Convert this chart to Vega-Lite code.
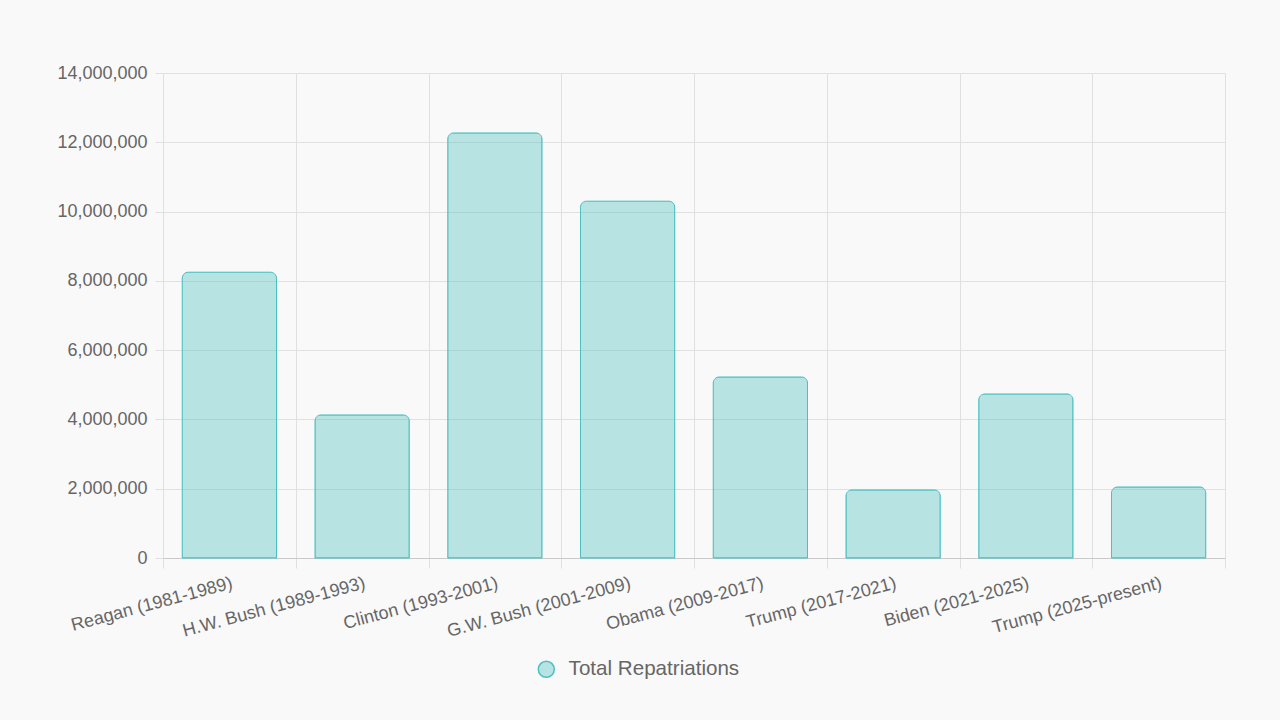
{
  "$schema": "https://vega.github.io/schema/vega-lite/v6.json",
  "width": 1062,
  "height": 485,
  "autosize": {"type": "none"},
  "padding": {"left": 163, "top": 73, "right": 55, "bottom": 162},
  "background": "#f9f9f9",
  "config": {"view": {"stroke": null}, "font": "Liberation Sans"},
  "data": {
    "values": [
      {"president": "Reagan (1981-1989)", "repatriations": 8250000},
      {"president": "H.W. Bush (1989-1993)", "repatriations": 4130000},
      {"president": "Clinton (1993-2001)", "repatriations": 12270000},
      {"president": "G.W. Bush (2001-2009)", "repatriations": 10300000},
      {"president": "Obama (2009-2017)", "repatriations": 5225000},
      {"president": "Trump (2017-2021)", "repatriations": 1965000},
      {"president": "Biden (2021-2025)", "repatriations": 4735000},
      {"president": "Trump (2025-present)", "repatriations": 2050000}
    ]
  },
  "mark": {
    "type": "bar",
    "width": {"band": 0.71},
    "stroke": "rgb(75,192,192)",
    "strokeWidth": 1,
    "cornerRadiusTopLeft": 6,
    "cornerRadiusTopRight": 6
  },
  "encoding": {
    "x": {
      "field": "president",
      "type": "nominal",
      "sort": null,
      "scale": {"paddingInner": 0, "paddingOuter": 0},
      "axis": {
        "title": null,
        "tickBand": "extent",
        "grid": true,
        "gridColor": "#e0e0e0",
        "ticks": true,
        "tickSize": 10,
        "tickColor": "#e0e0e0",
        "domainColor": "#c9c9c9",
        "labelAngle": -15,
        "labelAlign": "right",
        "labelBaseline": "top",
        "labelFontSize": 18,
        "labelColor": "#666666",
        "labelPadding": 6,
        "labelLimit": 0,
        "labelOverlap": false
      }
    },
    "y": {
      "field": "repatriations",
      "type": "quantitative",
      "scale": {"domain": [0, 14000000]},
      "axis": {
        "title": null,
        "format": ",.0f",
        "tickCount": 7,
        "domain": false,
        "ticks": true,
        "tickSize": 8,
        "tickColor": "#e0e0e0",
        "gridColor": "#e0e0e0",
        "labelFontSize": 18,
        "labelColor": "#666666",
        "labelPadding": 8
      }
    },
    "color": {
      "datum": "Total Repatriations",
      "scale": {"range": ["rgba(75,192,192,0.38)"]},
      "legend": {
        "title": null,
        "orient": "none",
        "legendX": 373,
        "legendY": 586,
        "padding": 0,
        "symbolType": "circle",
        "symbolSize": 256,
        "symbolStrokeColor": "rgb(75,192,192)",
        "symbolStrokeWidth": 1.5,
        "symbolOpacity": 1,
        "labelFontSize": 20.6,
        "labelColor": "#666666",
        "labelOffset": 12,
        "labelLimit": 0
      }
    }
  }
}
